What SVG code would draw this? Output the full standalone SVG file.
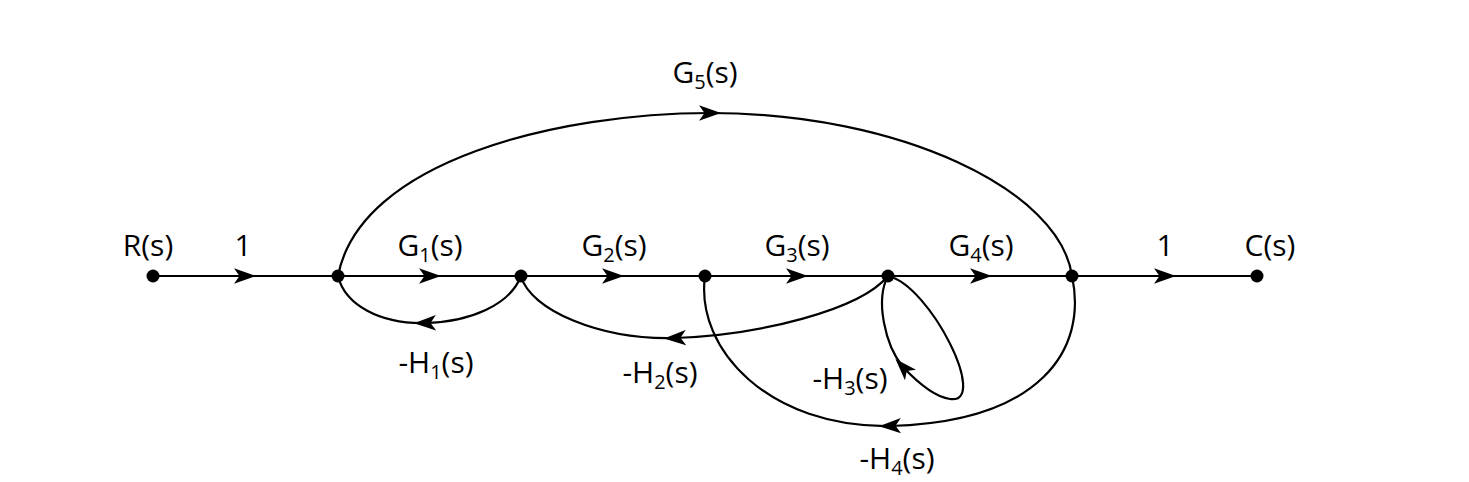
<svg xmlns="http://www.w3.org/2000/svg" width="1469" height="482" viewBox="0 0 1469 482">
<style>
text{font-family:"Open Sans","Liberation Sans",sans-serif;font-size:30px;fill:#000;text-anchor:middle}
.sub{font-size:20px}
path{fill:none;stroke:#000;stroke-width:2.2}
.n{fill:#000}
</style>
<defs><marker id="a" viewBox="0 0 20 14" refX="10" refY="7" markerWidth="22" markerHeight="16" markerUnits="userSpaceOnUse" orient="auto"><path d="M0,0 L20,7 L0,14 L5,7 Z" style="fill:#000;stroke:none"/></marker></defs>
<rect width="1469" height="482" fill="#fff"/>
<g id="connectors">
<path d="M153,276 L245,276" marker-end="url(#a)"/><path d="M245,276 L338,276"/>
<path d="M338,276 L430,276" marker-end="url(#a)"/><path d="M430,276 L521,276"/>
<path d="M521,276 L613,276" marker-end="url(#a)"/><path d="M613,276 L705,276"/>
<path d="M705,276 L797,276" marker-end="url(#a)"/><path d="M797,276 L888,276"/>
<path d="M888,276 L981,276" marker-end="url(#a)"/><path d="M981,276 L1072,276"/>
<path d="M1072,276 L1165,276" marker-end="url(#a)"/><path d="M1165,276 L1257,276"/>
<path d="M338,276 C360,160 560,113 710,113" marker-end="url(#a)"/><path d="M710,113 C900,113 1060,190 1072,276"/>
<path d="M521,276 C510,305 470,322 425,323" marker-end="url(#a)"/><path d="M425,323 C380,324 345,305 338,276"/>
<path d="M888,276 C860,310 760,335 675,338" marker-end="url(#a)"/><path d="M675,338 C600,340 530,310 521,276"/>
<path d="M888,276 C930,285 990,405 950,399 C935,397 920,385 903,367" marker-end="url(#a)"/><path d="M903,367 C885,345 875,300 888,276"/>
<path d="M1072,276 C1088,350 1040,422 890,426" marker-end="url(#a)"/><path d="M890,426 C770,428 695,350 705,276"/>
</g>
<g id="nodes">
<g id="n1"><circle class="n" cx="153" cy="276" r="6.5"/></g>
<g id="n2"><circle class="n" cx="338" cy="276" r="6.5"/></g>
<g id="n3"><circle class="n" cx="521" cy="276" r="6.5"/></g>
<g id="n4"><circle class="n" cx="705" cy="276" r="6.5"/></g>
<g id="n5"><circle class="n" cx="888" cy="276" r="6.5"/></g>
<g id="n6"><circle class="n" cx="1072" cy="276" r="6.5"/></g>
<g id="n7"><circle class="n" cx="1257" cy="276" r="6.5"/></g>
</g>
<g id="labels">
<text x="148" y="256">R(s)</text>
<text x="243" y="256">1</text>
<text x="430" y="256">G<tspan class="sub" dy="6">1</tspan><tspan dy="-6">(s)</tspan></text>
<text x="614" y="256">G<tspan class="sub" dy="6">2</tspan><tspan dy="-6">(s)</tspan></text>
<text x="797" y="256">G<tspan class="sub" dy="6">3</tspan><tspan dy="-6">(s)</tspan></text>
<text x="981" y="256">G<tspan class="sub" dy="6">4</tspan><tspan dy="-6">(s)</tspan></text>
<text x="1165" y="256">1</text>
<text x="1270" y="256">C(s)</text>
<text x="705" y="83">G<tspan class="sub" dy="6">5</tspan><tspan dy="-6">(s)</tspan></text>
<text x="436" y="373">-H<tspan class="sub" dy="6">1</tspan><tspan dy="-6">(s)</tspan></text>
<text x="660" y="383">-H<tspan class="sub" dy="6">2</tspan><tspan dy="-6">(s)</tspan></text>
<text x="850" y="389">-H<tspan class="sub" dy="6">3</tspan><tspan dy="-6">(s)</tspan></text>
<text x="897" y="469">-H<tspan class="sub" dy="6">4</tspan><tspan dy="-6">(s)</tspan></text>
</g>
</svg>
